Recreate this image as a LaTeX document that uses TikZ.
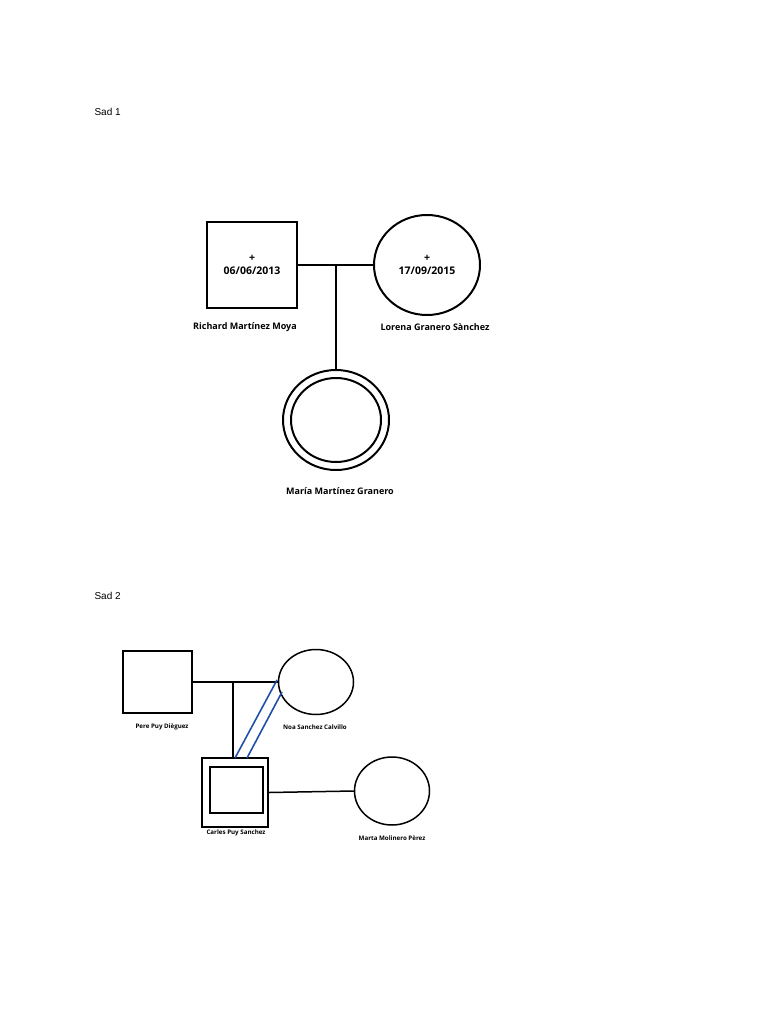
\documentclass[tikz,border=0pt]{standalone}
\usepackage{fontspec}
\usetikzlibrary{shapes.geometric}
\setmainfont{Liberation Sans}
\newfontfamily\lblfont{Open Sans}
\begin{document}
\begin{tikzpicture}[x=1pt,y=-1pt,
  ln/.style={line width=2pt},
  thin/.style={line width=1.5pt},
  big/.style={font=\lblfont\bfseries\fontsize{9}{11}\selectfont},
  small/.style={font=\lblfont\bfseries\fontsize{6.2}{7}\selectfont},
  head/.style={font=\fontsize{10}{12}\selectfont, anchor=west}]
\useasboundingbox (0,0) rectangle (768,1024);
\node[head] (s1) at (91,112) {Sad 1};
\node[head] (s2) at (91,596) {Sad 2};
% Sad 1
\node[draw,ln,minimum width=90pt,minimum height=86pt,inner sep=0,align=center,font=\lblfont\bfseries\fontsize{10.5}{13}\selectfont] (rich) at (252,265) {+\\06/06/2013};
\node[draw,ln,ellipse,minimum width=106pt,minimum height=100pt,inner sep=0,align=center,font=\lblfont\bfseries\fontsize{10.5}{13}\selectfont] (lor) at (427,265) {+\\17/09/2015};
\node[draw,ln,ellipse,minimum width=106pt,minimum height=100pt,inner sep=0] (mar) at (336,420) {};
\node[draw,ln,ellipse,minimum width=90pt,minimum height=84pt,inner sep=0] (mari) at (336,420) {};
\draw[ln] (rich.east) -- (lor.west);
\coordinate (c1) at (336,266);
\draw[ln] (c1) -- (mar.north);
\node[big] (lr) at (245,327) {Richard Martínez Moya};
\node[big] (ll) at (435,327) {Lorena Granero Sànchez};
\node[big] (lm) at (340,491) {María Martínez Granero};
% Sad 2
\node[draw,thin,minimum width=69pt,minimum height=62pt,inner sep=0] (pere) at (157.5,682) {};
\node[draw,thin,ellipse,minimum width=75pt,minimum height=65pt,inner sep=0] (noa) at (316,682) {};
\node[draw,thin,minimum width=66pt,minimum height=69pt,inner sep=0] (car) at (235,792.5) {};
\node[draw,thin,minimum width=53pt,minimum height=46pt,inner sep=0] (cari) at (236.5,790) {};
\node[draw,thin,ellipse,minimum width=75pt,minimum height=68pt,inner sep=0] (mt) at (392,791) {};
\draw[thin] (pere.east) -- (noa.west);
\coordinate (c2) at (233,682);
\draw[thin] (c2) -- (car.north -| c2);
\draw[thin] (car.east) -- (mt.west);
\coordinate (b1s) at (235,758); \coordinate (b1e) at (277,680);
\coordinate (b2s) at (247,758); \coordinate (b2e) at (282,692);
\draw[line width=1.6pt,color={rgb,255:red,30;green,80;blue,170}] (b1s) -- (b1e) (b2s) -- (b2e);
\node[small] (lp) at (162,727) {Pere Puy Dièguez};
\node[small] (ln2) at (315,727) {Noa Sanchez Calvillo};
\node[small] (lc) at (236,833) {Carles Puy Sanchez};
\node[small] (lmt) at (392,838) {Marta Molinero Pèrez};
\end{tikzpicture}
\end{document}
